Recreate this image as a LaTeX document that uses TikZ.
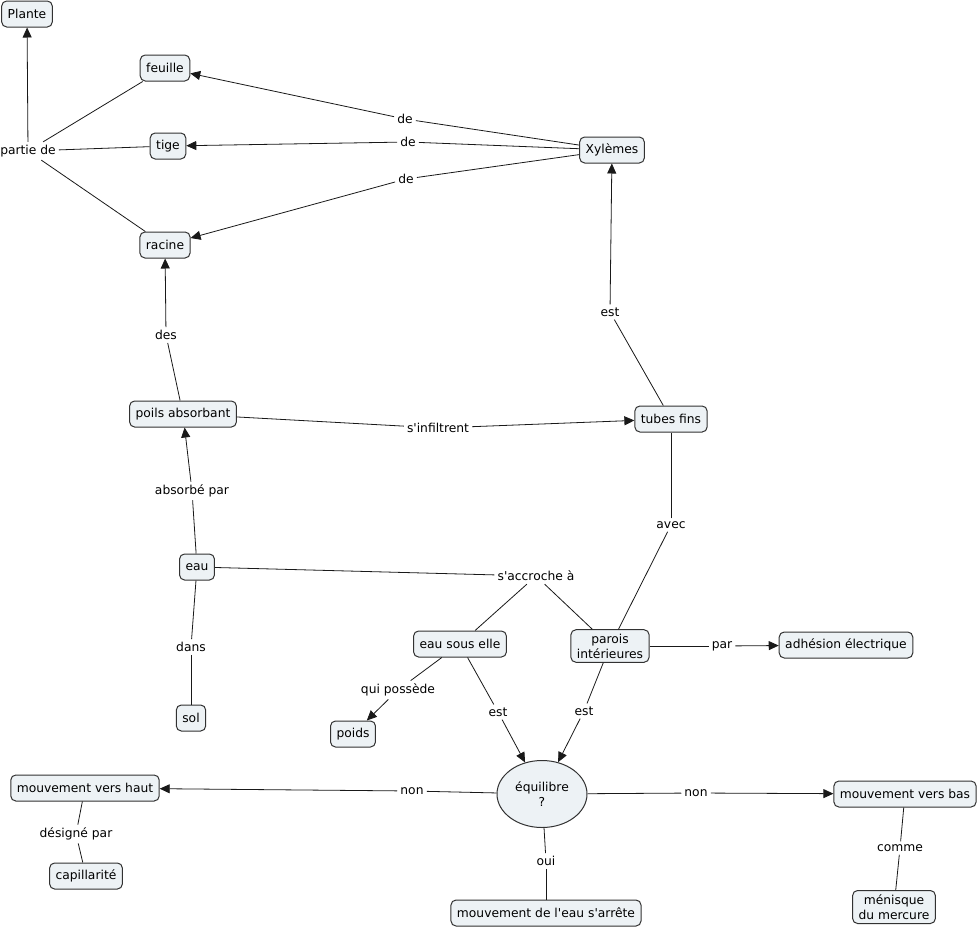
\documentclass[tikz,border=0pt]{standalone}
\usepackage{fontspec}
\setmainfont{DejaVu Sans}[Ligatures=TeXOff]
\usetikzlibrary{arrows.meta,shapes.geometric}
\definecolor{boxfill}{RGB}{237,242,245}
\definecolor{boxline}{RGB}{50,50,50}
\begin{document}
\begin{tikzpicture}[x=1pt,y=-1pt,
  every node/.style={font=\fontsize{12.3}{15}\selectfont},
  concept/.style={draw=boxline,fill=boxfill,rounded corners=5pt,line width=1pt,
    minimum height=26pt,inner xsep=6pt,inner ysep=4pt,align=center},
  lbl/.style={inner sep=3pt},
  link/.style={line width=0.8pt,draw=black!90},
  arr/.style={link,-{Triangle[length=10pt,width=9pt]}}]
\useasboundingbox[fill=white] (0,0) rectangle (980,929);

% concepts
\node[concept] (plante) at (27,14) {Plante};
\node[concept] (feuille) at (165,68) {feuille};
\node[concept] (tige) at (168,146) {tige};
\node[concept] (racine) at (165,245) {racine};
\node[concept] (xyl) at (612,150) {Xylèmes};
\node[concept] (poils) at (183,414) {poils absorbant};
\node[concept] (tubes) at (671,419) {tubes fins};
\node[concept] (eau) at (197,567) {eau};
\node[concept] (sol) at (191,718) {sol};
\node[concept] (eausous) at (460,644) {eau sous elle};
\node[concept] (parois) at (610,646) {parois\\intérieures};
\node[concept] (adhesion) at (846,645) {adhésion électrique};
\node[concept] (poids) at (353,734) {poids};
\node[draw=boxline,fill=boxfill,line width=1pt,ellipse,inner sep=0pt,
  minimum width=90pt,minimum height=67pt,align=center] (equi) at (542,794) {équilibre\\?};
\node[concept] (haut) at (85,788) {mouvement vers haut};
\node[concept] (capil) at (86,876) {capillarité};
\node[concept] (bas) at (905,794) {mouvement vers bas};
\node[concept] (menisque) at (894,907) {ménisque\\du mercure};
\node[concept] (arrete) at (546,913) {mouvement de l'eau s'arrête};

% linking phrases
\node[lbl] (partie) at (28,151) {partie de};
\node[lbl] (de1) at (405,119) {de};
\node[lbl] (de2) at (408,142) {de};
\node[lbl] (de3) at (406,179) {de};
\node[lbl] (des) at (166,335) {des};
\node[lbl] (est1) at (610,312) {est};
\node[lbl] (infil) at (438,428) {s'infiltrent};
\node[lbl] (absorbe) at (192,491) {absorbé par};
\node[lbl] (dans) at (191,647) {dans};
\node[lbl] (accroche) at (536,576) {s'accroche à};
\node[lbl] (avec) at (671,525) {avec};
\node[lbl] (par) at (722,646) {par};
\node[lbl] (quiposs) at (398,690) {qui possède};
\node[lbl] (est2) at (498,712) {est};
\node[lbl] (est3) at (584,711) {est};
\node[lbl] (non1) at (412,791) {non};
\node[lbl] (designe) at (76,834) {désigné par};
\node[lbl] (non2) at (696,793) {non};
\node[lbl] (comme) at (900,848) {comme};
\node[lbl] (oui) at (546,861) {oui};

% connectors
\draw[link] (feuille) -- (partie);
\draw[link] (tige) -- (partie);
\draw[link] (racine) -- (partie);
\draw[arr] (partie) -- (plante);

\draw[link] (xyl) -- (de1);
\draw[arr] (de1) -- (feuille);
\draw[link] (xyl) -- (de2);
\draw[arr] (de2) -- (tige);
\draw[link] (xyl) -- (de3);
\draw[arr] (de3) -- (racine);

\draw[link] (poils) -- (des);
\draw[arr] (des) -- (racine);
\draw[link] (tubes) -- (est1);
\draw[arr] (est1) -- (xyl);
\draw[link] (poils) -- (infil);
\draw[arr] (infil) -- (tubes);

\draw[link] (eau) -- (absorbe);
\draw[arr] (absorbe) -- (poils);
\draw[link] (eau) -- (dans);
\draw[link] (dans) -- (sol);

\draw[link] (eau) -- (accroche);
\draw[link] (accroche) -- (eausous);
\draw[link] (accroche) -- (parois);
\draw[link] (parois) -- (avec);
\draw[link] (avec) -- (tubes);
\draw[link] (parois) -- (par);
\draw[arr] (par) -- (adhesion);

\draw[link] (eausous) -- (quiposs);
\draw[arr] (quiposs) -- (poids);
\draw[link] (eausous) -- (est2);
\draw[arr] (est2) -- (equi);
\draw[link] (parois) -- (est3);
\draw[arr] (est3) -- (equi);

\draw[link] (equi) -- (non1);
\draw[arr] (non1) -- (haut);
\draw[link] (equi) -- (non2);
\draw[arr] (non2) -- (bas);
\draw[link] (equi) -- (oui);
\draw[link] (oui) -- (arrete);
\draw[link] (haut) -- (designe);
\draw[link] (designe) -- (capil);
\draw[link] (bas) -- (comme);
\draw[link] (comme) -- (menisque);
\end{tikzpicture}
\end{document}
